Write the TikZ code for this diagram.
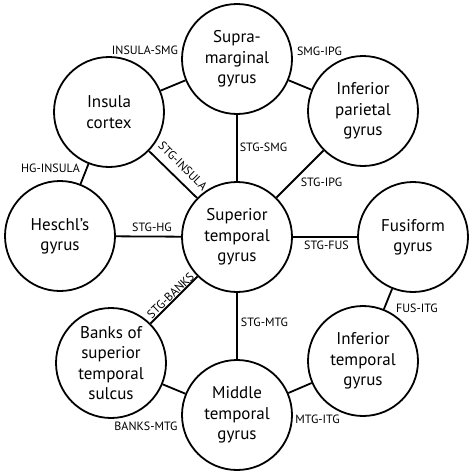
\documentclass[tikz,border=0pt]{standalone}
\usepackage{fontspec}
\setmainfont{PT Sans}
\begin{document}
\begin{tikzpicture}[x=1pt,y=-1pt,
  region/.style={circle, draw, line width=1.8pt, minimum size=110pt, inner sep=0pt, align=center, font=\fontsize{17}{20.4}\selectfont},
  link/.style={line width=1.8pt},
  lab/.style={inner sep=0pt, font=\fontsize{12}{14}\selectfont}]
\useasboundingbox (0,0) rectangle (474,474);
\node[region] (stg) at (237,237) {Superior\\temporal\\gyrus};
\node[region] (smg) at (237,59) {Supra-\\marginal\\gyrus};
\node[region] (ins) at (109,112) {Insula\\cortex};
\node[region] (ipg) at (363,111) {Inferior\\parietal\\gyrus};
\node[region] (hg) at (60,236) {Heschl’s\\gyrus};
\node[region] (fus) at (413,237) {Fusiform\\gyrus};
\node[region] (banks) at (111,363) {Banks of\\superior\\temporal\\sulcus};
\node[region] (itg) at (363,361) {Inferior\\temporal\\gyrus};
\node[region] (mtg) at (237,415) {Middle\\temporal\\gyrus};
\draw[link] (ins) -- (smg);
\draw[link] (smg) -- (ipg);
\draw[link] (hg) -- (ins);
\draw[link] (stg) -- (ins);
\draw[link] (stg) -- (hg);
\draw[link] (stg) -- (smg);
\draw[link] (stg) -- (ipg);
\draw[link] (stg) -- (fus);
\draw[link] (stg) -- (banks);
\draw[link] (stg) -- (mtg);
\draw[link] (fus) -- (itg);
\draw[link] (mtg) -- (itg);
\draw[link] (banks) -- (mtg);
\node[lab] (l-inssmg) at (145,50) {INSULA-SMG};
\node[lab] (l-smgipg) at (319.5,51.5) {SMG-IPG};
\node[lab] (l-hgins) at (50.5,168) {HG-INSULA};
\node[lab, rotate=-45] (l-stgins) at (183,166) {STG-INSULA};
\node[lab] (l-stghg) at (152,227.5) {STG-HG};
\node[lab] (l-stgsmg) at (263.5,147) {STG-SMG};
\node[lab] (l-stgipg) at (321.5,182.5) {STG-IPG};
\node[lab] (l-stgfus) at (326.5,245.5) {STG-FUS};
\node[lab, rotate=44] (l-stgbanks) at (170.5,295.5) {STG-BANKS};
\node[lab] (l-stgmtg) at (264.5,322.5) {STG-MTG};
\node[lab] (l-fusitg) at (417,308.5) {FUS-ITG};
\node[lab] (l-mtgitg) at (317.5,419.5) {MTG-ITG};
\node[lab] (l-banksmtg) at (146,426) {BANKS-MTG};
\end{tikzpicture}
\end{document}
